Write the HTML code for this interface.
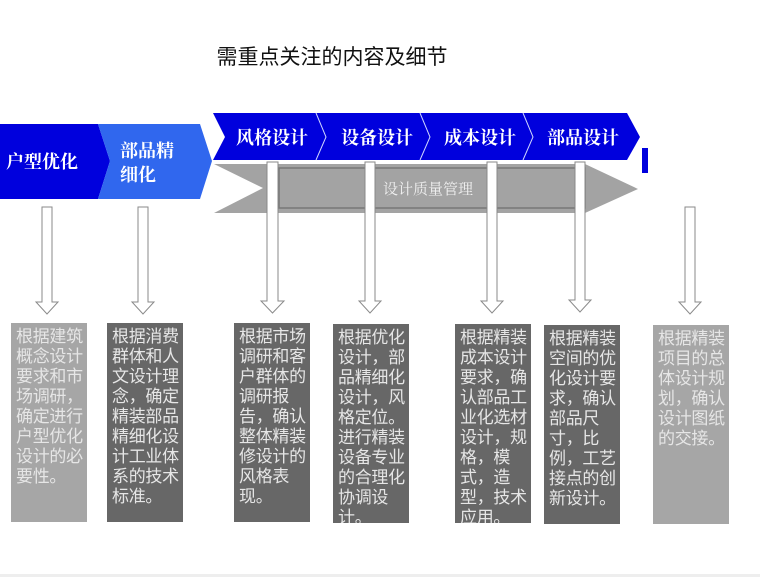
<!DOCTYPE html>
<html><head><meta charset="utf-8"><style>
body{margin:0;width:760px;height:577px;background:#fff;position:relative;overflow:hidden;font-family:"Liberation Sans","Noto Sans CJK SC",sans-serif}
.b{position:absolute;width:76px;height:199px;overflow:hidden;color:#e6e6e6;font-size:17px;line-height:20px;box-sizing:border-box;padding:4px 0 0 5px;white-space:nowrap;letter-spacing:-0.3px}
.lt{background:#a6a6a6}.dk{background:#676767}
</style></head><body>
<svg width="760" height="577" style="position:absolute;left:0;top:0" xmlns="http://www.w3.org/2000/svg">
<text x="332" y="64" font-size="21" text-anchor="middle" fill="#111" font-family="Liberation Sans,Noto Sans CJK SC,sans-serif">需重点关注的内容及细节</text>
<polygon points="0,124 98,124 110,161 98,199 0,199" fill="#0000dd"/>
<polygon points="98,124 200,124 212,161 200,199 98,199 110,161" fill="#3067ee"/>
<g font-family="Liberation Serif,Noto Serif CJK SC,serif" font-weight="bold" fill="#fff" font-size="18">
<text x="6" y="168">户型优化</text>
<text x="120" y="157">部品精</text>
<text x="120" y="181">细化</text>
</g>
<polygon points="214,164 585,164 638,189 585,213 214,213 263,188" fill="#a3a3a3"/>
<rect x="279" y="168" width="306" height="40" fill="none" stroke="#777" stroke-width="1.5"/>
<line x1="585" y1="164" x2="585" y2="213" stroke="#777"/>
<text x="383" y="194" font-size="15" fill="#f0f0f0" font-family="Liberation Serif,Noto Serif CJK SC,serif">设计质量管理</text>
<polygon points="213,113 627,113 640,137 627,160 213,160 225,137" fill="#0000dd"/>
<g stroke="#cfd6ff" stroke-width="1" fill="none">
<polyline points="316,113 326,137 316,160"/>
<polyline points="420,113 430,137 420,160"/>
<polyline points="523,113 533,137 523,160"/>
</g>
<g font-size="18" font-weight="bold" fill="#fff" text-anchor="middle" font-family="Liberation Serif,Noto Serif CJK SC,serif">
<text x="272" y="144">风格设计</text>
<text x="377" y="144">设备设计</text>
<text x="480" y="144">成本设计</text>
<text x="583" y="144">部品设计</text>
</g>
<rect x="642" y="148" width="6" height="25" fill="#0000dd"/>
<g fill="#fff" stroke="#8a8a8a" stroke-width="1">
<polygon points="42,207 52,207 52,302 58,302 47,314 36,302 42,302"/>
<polygon points="138,207 148,207 148,302 154,302 143,314 132,302 138,302"/>
<polygon points="267,162 278,162 278,301 284,301 272.5,313 261,301 267,301"/>
<polygon points="365,162 375,162 375,301 381,301 370,313 359,301 365,301"/>
<polygon points="487,162 497,162 497,301 503,301 492,313 481,301 487,301"/>
<polygon points="575,162 585,162 585,300 591,300 580,312 569,300 575,300"/>
<polygon points="685,207 695,207 695,302 701,302 690,314 679,302 685,302"/>
</g>
<rect x="0" y="574" width="760" height="3" fill="#eeeeee"/>
</svg>
<div class="b lt" style="left:11px;top:323px">根据建筑<br>概念设计<br>要求和市<br>场调研，<br>确定进行<br>户型优化<br>设计的必<br>要性。</div>
<div class="b dk" style="left:107px;top:323px">根据消费<br>群体和人<br>文设计理<br>念，确定<br>精装部品<br>精细化设<br>计工业体<br>系的技术<br>标准。</div>
<div class="b dk" style="left:234px;top:323px">根据市场<br>调研和客<br>户群体的<br>调研报<br>告，确认<br>整体精装<br>修设计的<br>风格表<br>现。</div>
<div class="b dk" style="left:333px;top:324px">根据优化<br>设计，部<br>品精细化<br>设计，风<br>格定位。<br>进行精装<br>设备专业<br>的合理化<br>协调设<br>计。</div>
<div class="b dk" style="left:455px;top:324px">根据精装<br>成本设计<br>要求，确<br>认部品工<br>业化选材<br>设计，规<br>格，模<br>式，造<br>型，技术<br>应用。</div>
<div class="b dk" style="left:544px;top:325px">根据精装<br>空间的优<br>化设计要<br>求，确认<br>部品尺<br>寸，比<br>例，工艺<br>接点的创<br>新设计。</div>
<div class="b lt" style="left:653px;top:325px">根据精装<br>项目的总<br>体设计规<br>划，确认<br>设计图纸<br>的交接。</div>
</body></html>
